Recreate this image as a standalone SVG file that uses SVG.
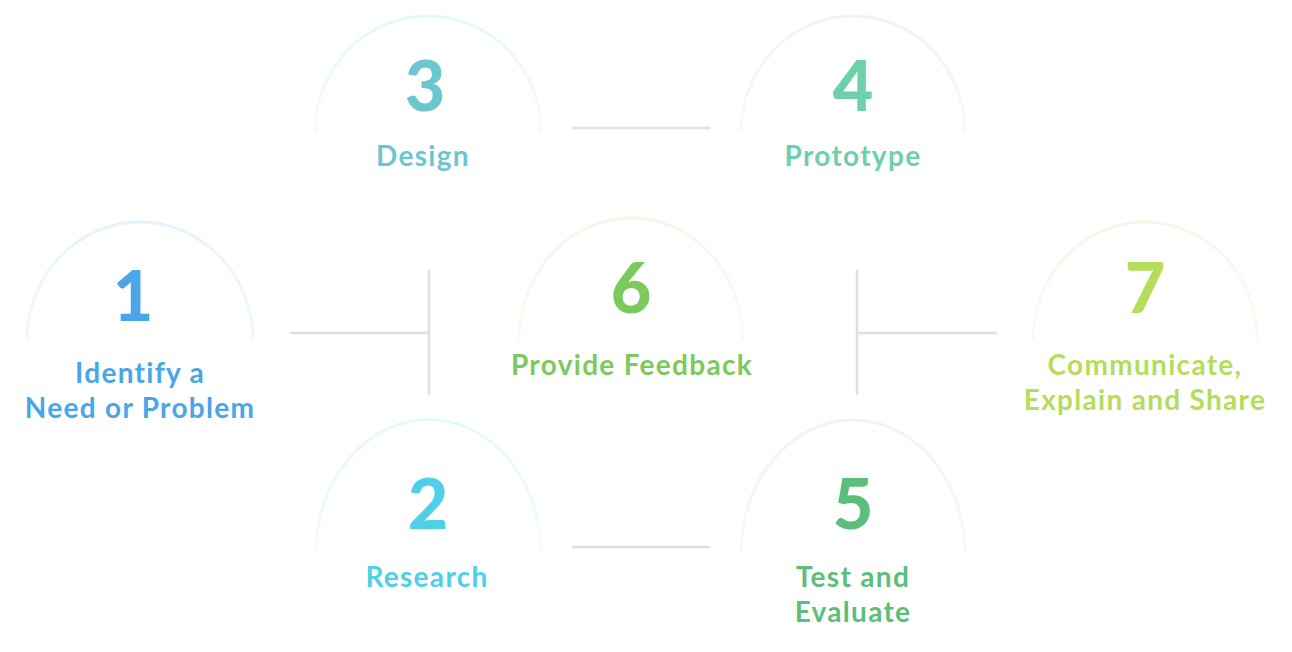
<svg xmlns="http://www.w3.org/2000/svg" width="1292" height="652" viewBox="0 0 1292 652">
<defs>
<linearGradient id="gB" x1="0" y1="0" x2="0" y2="1"><stop offset="0" stop-color="#e4f3fd"/><stop offset="1" stop-color="#e4f3fd" stop-opacity="0.5"/></linearGradient>
<linearGradient id="gC" x1="0" y1="0" x2="0" y2="1"><stop offset="0" stop-color="#e4f8fb"/><stop offset="1" stop-color="#e4f8fb" stop-opacity="0.5"/></linearGradient>
<linearGradient id="gG" x1="0" y1="0" x2="0" y2="1"><stop offset="0" stop-color="#eaf7ee"/><stop offset="1" stop-color="#eaf7ee" stop-opacity="0.5"/></linearGradient>
<linearGradient id="gY" x1="0" y1="0" x2="0" y2="1"><stop offset="0" stop-color="#f1f9e6"/><stop offset="1" stop-color="#f1f9e6" stop-opacity="0.5"/></linearGradient>
</defs>
<style>
.arc{fill:none;stroke-width:3}
.num{font-family:Lato,"Open Sans",sans-serif;font-weight:900;font-size:70px;text-anchor:middle}
.lbl{font-family:Lato,"Open Sans",sans-serif;font-weight:700;font-size:28px;letter-spacing:1.3px;text-anchor:middle}
.con line{stroke:#e0e0e0;stroke-width:2.5}
</style>
<rect width="1292" height="652" fill="#ffffff"/>
<g class="con" id="connectors">
<line x1="572" y1="128" x2="710" y2="128"/>
<line x1="572" y1="547" x2="710" y2="547"/>
<line x1="290" y1="333" x2="429" y2="333"/>
<line x1="429" y1="270" x2="429" y2="395"/>
<line x1="857" y1="270" x2="857" y2="395"/>
<line x1="857" y1="333" x2="997" y2="333"/>
</g>
<g id="node1">
<path class="arc" stroke="url(#gB)" d="M27 340 A113 118 0 0 1 253 340"/>
<text class="num" x="133" y="321" fill="#4aa6e8">1</text>
<text class="lbl" x="140" y="383" fill="#4aa6e8">Identify a</text>
<text class="lbl" x="140" y="418" fill="#4aa6e8">Need or Problem</text>
</g>
<g id="node2">
<path class="arc" stroke="url(#gC)" d="M316 553 A112 133 0 0 1 541 553"/>
<text class="num" x="428" y="529" fill="#4fcfe8">2</text>
<text class="lbl" x="427" y="587" fill="#4fcfe8">Research</text>
</g>
<g id="node3">
<path class="arc" stroke="url(#gC)" d="M315 132 A113 116 0 0 1 541 132"/>
<text class="num" x="425" y="111" fill="#6cc6cf">3</text>
<text class="lbl" x="423" y="166" fill="#6cc6cf">Design</text>
</g>
<g id="node4">
<path class="arc" stroke="url(#gG)" d="M741 132 A112 116 0 0 1 965 132"/>
<text class="num" x="853" y="111" fill="#6dd0ab">4</text>
<text class="lbl" x="853" y="166" fill="#6dd0ab">Prototype</text>
</g>
<g id="node5">
<path class="arc" stroke="url(#gG)" d="M741 553 A112 133 0 0 1 965 553"/>
<text class="num" x="853" y="529" fill="#5bbf7b">5</text>
<text class="lbl" x="853" y="587" fill="#5bbf7b">Test and</text>
<text class="lbl" x="853" y="622" fill="#5bbf7b">Evaluate</text>
</g>
<g id="node6">
<path class="arc" stroke="url(#gY)" d="M519 340 A112 122 0 0 1 743 340"/>
<text class="num" x="631" y="313" fill="#7cc95e">6</text>
<text class="lbl" x="632" y="375" fill="#7cc95e">Provide Feedback</text>
</g>
<g id="node7">
<path class="arc" stroke="url(#gY)" d="M1033 340 A112 118 0 0 1 1257 340"/>
<text class="num" x="1145" y="313" fill="#b6dc5b">7</text>
<text class="lbl" x="1145" y="375" fill="#b6dc5b">Communicate,</text>
<text class="lbl" x="1145" y="410" fill="#b6dc5b">Explain and Share</text>
</g>
</svg>
